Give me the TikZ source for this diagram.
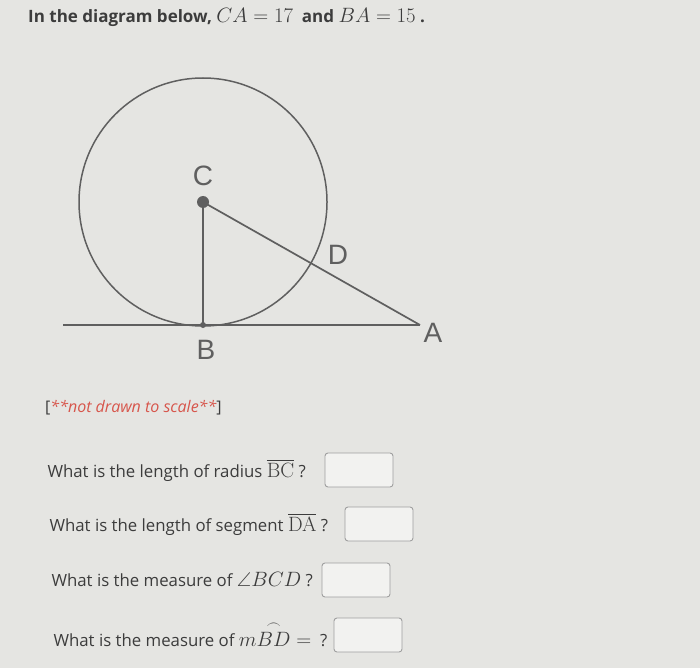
\documentclass[tikz,border=0pt]{standalone}
\usepackage{amsmath}
\usepackage{amssymb}
\usepackage[no-math]{fontspec}
\usetikzlibrary{calc}
\setmainfont{Open Sans}
\newfontfamily\labelfont{Liberation Sans}
\definecolor{paper}{RGB}{229,229,226}
\definecolor{ink}{RGB}{60,60,60}
\definecolor{geom}{RGB}{95,95,95}
\definecolor{note}{RGB}{215,85,75}
\newcommand{\bigmath}[2]{{\fontsize{#1}{#1}\selectfont$#2$}}
\tikzset{
  pointlabel/.style={text=geom, font=\labelfont\fontsize{28}{28}\selectfont},
  question/.style={anchor=west, text=ink, font=\fontsize{16.8}{19}\selectfont},
  answerbox/.style={draw=gray!75, fill=paper!50!white, rounded corners=3pt, line width=0.9pt, minimum width=68pt, minimum height=34pt},
}
\begin{document}
\begin{tikzpicture}[x=1pt, y=-1pt]
        \fill[paper] (0,0) rectangle (700,668);
        \useasboundingbox (0,0) rectangle (700,668);

        % heading
        \node[anchor=west, text=ink, font=\fontsize{17}{20}\selectfont\bfseries, inner sep=0pt] (title) at (28,17)
          {In the diagram below, \bigmath{22}{CA = 17}\ \ and \bigmath{22}{BA = 15}\ .};

        % figure
        \coordinate (C) at (203,202);
        \coordinate (B) at (203,325);
        \coordinate (A) at (420,325);
        \coordinate (L) at (63,325);
        \coordinate (D) at ($(C)!124pt!(A)$);

        \draw[geom, line width=1.5pt] (C) circle (124pt);
        \draw[geom, line width=1.7pt] (L) -- (A);
        \draw[geom, line width=1.7pt] (C) -- (B);
        \draw[geom, line width=1.7pt] (C) -- (D) -- (A);
        \fill[geom] (C) circle (6pt);
        \fill[geom] (B) circle (3pt);

        \node[pointlabel] (labC) at (203,176) {C};
        \node[pointlabel] (labB) at (206,350) {B};
        \node[pointlabel] (labD) at (338,255) {D};
        \node[pointlabel] (labA) at (433,333) {A};

        % note
        \node[anchor=west, text=ink, font=\fontsize{16}{18}\selectfont, inner sep=0pt] (scale) at (45,408)
          {[\textcolor{note}{\itshape**not drawn to scale**}]};

        % questions
        \node[question] (q1) at (44,470) {What is the length of radius \bigmath{20}{\overline{\mathrm{BC}}} ?};
        \node[question] (q2) at (46,524) {What is the length of segment \bigmath{20}{\overline{\mathrm{DA}}} ?};
        \node[question] (q3) at (48,580) {What is the measure of \bigmath{20}{\angle BCD} ?};
        \node[question] (q4) at (50,634) {What is the measure of \bigmath{20}{m\overset{\frown}{BD} = } \ ?};

        \node[answerbox] (a1) at (359,470) {};
        \node[answerbox] (a2) at (379,524) {};
        \node[answerbox] (a3) at (356,580) {};
        \node[answerbox] (a4) at (368,635) {};

    \end{tikzpicture}
\end{document}
